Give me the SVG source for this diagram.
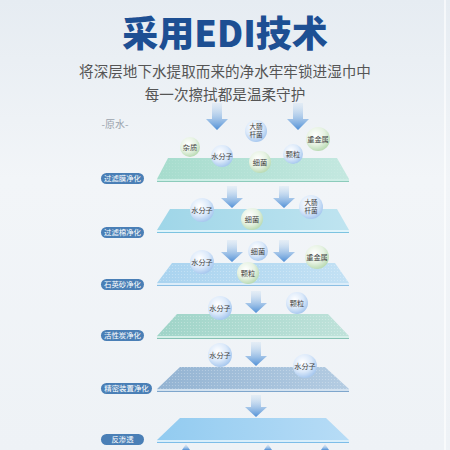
<svg xmlns="http://www.w3.org/2000/svg" width="450" height="450" viewBox="0 0 450 450">
<defs>
<linearGradient id="bg" x1="0" y1="0" x2="0" y2="1">
<stop offset="0" stop-color="#e6ecf2"/><stop offset="0.4" stop-color="#f2f5f8"/><stop offset="1" stop-color="#eef2f6"/>
</linearGradient>
<linearGradient id="arr" x1="0" y1="0" x2="0" y2="1">
<stop offset="0" stop-color="#c9def2" stop-opacity="0.3"/><stop offset="1" stop-color="#4f8fd6"/>
</linearGradient>
<radialGradient id="bb" cx="0.4" cy="0.35" r="0.65">
<stop offset="0" stop-color="#ffffff"/><stop offset="0.6" stop-color="#dbe9fa"/><stop offset="1" stop-color="#a9c9ef"/>
</radialGradient>
<radialGradient id="bg2" cx="0.4" cy="0.35" r="0.65">
<stop offset="0" stop-color="#ffffff"/><stop offset="0.6" stop-color="#e6f2e2"/><stop offset="1" stop-color="#bcdcb6"/>
</radialGradient>
<pattern id="dots" width="3" height="3" patternUnits="userSpaceOnUse">
<circle cx="1.5" cy="1.5" r="0.6" fill="#ffffff" fill-opacity="0.3"/>
</pattern>
<linearGradient id="p1" x1="0" y1="0" x2="1" y2="0"><stop offset="0" stop-color="#a6dccd"/><stop offset="1" stop-color="#c4e8e0"/></linearGradient>
<linearGradient id="p2" x1="0" y1="0" x2="1" y2="0"><stop offset="0" stop-color="#9fd6e8"/><stop offset="1" stop-color="#bfe4f0"/></linearGradient>
<linearGradient id="p3" x1="0" y1="0" x2="1" y2="0"><stop offset="0" stop-color="#a9d3ef"/><stop offset="1" stop-color="#c3e1f4"/></linearGradient>
<linearGradient id="p4" x1="0" y1="0" x2="1" y2="0"><stop offset="0" stop-color="#9fd4c8"/><stop offset="1" stop-color="#bfe2da"/></linearGradient>
<linearGradient id="p5" x1="0" y1="0" x2="1" y2="0"><stop offset="0" stop-color="#93b3d2"/><stop offset="1" stop-color="#b4cce2"/></linearGradient>
<linearGradient id="p6" x1="0" y1="0" x2="1" y2="0"><stop offset="0" stop-color="#92cbf0"/><stop offset="1" stop-color="#b7dcf6"/></linearGradient>
</defs>
<style>
.t{font-family:"Noto Sans CJK SC","Noto Sans",sans-serif;}
.title{font-size:36px;font-weight:900;fill:#1d4f93;}
.sub{font-size:14.6px;fill:#555555;}
.pill{fill:#4a7fb6;}
.pt{font-size:7.4px;fill:#ffffff;text-anchor:middle;}
.bt{font-size:7.2px;fill:#444444;text-anchor:middle;}
.bt2{font-size:6.6px;fill:#444444;text-anchor:middle;}
.arrow{fill:url(#arr);}
</style>
<rect width="450" height="450" fill="url(#bg)"/>
<rect x="444" y="0" width="2" height="450" fill="#ffffff" fill-opacity="0.6"/>

<g id="title" class="t">
<text class="title" x="225" y="47" text-anchor="middle">采用EDI技术</text>
<text class="sub" x="225" y="77" text-anchor="middle">将深层地下水提取而来的净水牢牢锁进湿巾中</text>
<text class="sub" x="225" y="100" text-anchor="middle">每一次擦拭都是温柔守护</text>
<text x="115" y="128" text-anchor="middle" style="font-size:10px;fill:#9aa3ad;">-原水-</text>
</g>

<g id="connectors">
<path class="arrow" d="M212,103 H222 V119 H228 L217,130 L206,119 H212 Z"/>
<path class="arrow" d="M293,103 H303 V119 H309 L298,130 L287,119 H293 Z"/>
<path class="arrow" d="M227,186 H237 V198 H243 L232,208 L221,198 H227 Z"/>
<path class="arrow" d="M279,186 H289 V198 H295 L284,208 L273,198 H279 Z"/>
<path class="arrow" d="M227,240 H237 V252 H243 L232,262 L221,252 H227 Z"/>
<path class="arrow" d="M279,240 H289 V252 H295 L284,262 L273,252 H279 Z"/>
<path class="arrow" d="M251,291 H261 V303 H267 L256,313 L245,303 H251 Z"/>
<path class="arrow" d="M251,342 H261 V356 H267 L256,366 L245,356 H251 Z"/>
<path class="arrow" d="M251,395 H261 V407 H267 L256,417 L245,407 H251 Z"/>
<path class="arrow" d="M186,444 L182,450 H190 Z"/>
<path class="arrow" d="M268,444 L264,450 H272 Z"/>
<path class="arrow" d="M325,444 L321,450 H329 Z"/>
</g>

<g id="plate1">
<polygon points="168,158 337,158 349,179 157,179" fill="url(#p1)"/>
<polygon points="168,158 337,158 349,179 157,179" fill="url(#dots)" opacity="0.4"/>
<rect x="157" y="179" width="192" height="2" fill="#cdeee6"/>
<line x1="157" y1="181.5" x2="349" y2="181.5" stroke="#8ccbbb" stroke-width="1"/>
<rect class="pill" x="101" y="173" width="43" height="11" rx="5.5"/>
<text class="t pt" x="122.5" y="181.2">过滤膜净化</text>
</g>
<g id="plate2">
<polygon points="170,209 337,209 349,230 157,230" fill="url(#p2)"/>
<rect x="157" y="230" width="192" height="2" fill="#dff4fb"/>
<line x1="157" y1="232.5" x2="349" y2="232.5" stroke="#7cc3e0" stroke-width="1"/>
<rect class="pill" x="101" y="227" width="43" height="11" rx="5.5"/>
<text class="t pt" x="122.5" y="235.2">过滤棉净化</text>
</g>
<g id="plate3">
<polygon points="172,263 335,263 349,283 157,283" fill="url(#p3)"/>
<polygon points="172,263 335,263 349,283 157,283" fill="url(#dots)"/>
<rect x="157" y="283" width="192" height="2" fill="#dcedf9"/>
<line x1="157" y1="285.5" x2="349" y2="285.5" stroke="#8cbfe3" stroke-width="1"/>
<rect class="pill" x="101" y="279" width="43" height="11" rx="5.5"/>
<text class="t pt" x="122.5" y="287.2">石英砂净化</text>
</g>
<g id="plate4">
<polygon points="177,314 328,314 349,336 157,336" fill="url(#p4)"/>
<polygon points="177,314 328,314 349,336 157,336" fill="url(#dots)"/>
<rect x="157" y="336" width="192" height="2" fill="#d6efe9"/>
<line x1="157" y1="338.5" x2="349" y2="338.5" stroke="#86c3b4" stroke-width="1"/>
<rect class="pill" x="101" y="330" width="43" height="11" rx="5.5"/>
<text class="t pt" x="122.5" y="338.2">活性炭净化</text>
</g>
<g id="plate5">
<polygon points="180,367 325,367 349,389 157,389" fill="url(#p5)"/>
<polygon points="180,367 325,367 349,389 157,389" fill="url(#dots)"/>
<rect x="157" y="389" width="192" height="2" fill="#d3e2f0"/>
<line x1="157" y1="391.5" x2="349" y2="391.5" stroke="#7fa6cc" stroke-width="1"/>
<rect class="pill" x="101" y="383" width="51" height="11" rx="5.5"/>
<text class="t pt" x="126.5" y="391.2">精密装置净化</text>
</g>
<g id="plate6">
<polygon points="180,418 326,418 349,440 157,440" fill="url(#p6)"/>
<rect x="157" y="440" width="192" height="2" fill="#d8eefb"/>
<line x1="157" y1="442.5" x2="349" y2="442.5" stroke="#7dbde8" stroke-width="1"/>
<rect class="pill" x="101" y="434" width="43" height="11" rx="5.5"/>
<text class="t pt" x="122.5" y="442.2">反渗透</text>
</g>

<g id="bubbles" class="t">
<g id="b1"><circle cx="190" cy="147" r="10" fill="url(#bg2)"/><text class="bt" x="190" y="149.5">杂质</text></g>
<g id="b2"><circle cx="222" cy="156" r="11" fill="url(#bb)"/><text class="bt" x="222" y="158.5">水分子</text></g>
<g id="b3"><circle cx="256" cy="131" r="11" fill="url(#bb)"/><text class="bt2" x="256" y="128.5">大肠</text><text class="bt2" x="256" y="137">杆菌</text></g>
<g id="b4"><circle cx="260" cy="162" r="11" fill="url(#bg2)"/><text class="bt" x="260" y="164.5">细菌</text></g>
<g id="b5"><circle cx="293" cy="154" r="10" fill="url(#bb)"/><text class="bt" x="293" y="156.5">颗粒</text></g>
<g id="b6"><circle cx="318" cy="139" r="12" fill="url(#bg2)"/><text class="bt" x="318" y="141.5">重金属</text></g>
<g id="b7"><circle cx="202" cy="210" r="12" fill="url(#bb)"/><text class="bt" x="202" y="212.5">水分子</text></g>
<g id="b8"><circle cx="252" cy="219" r="11" fill="url(#bg2)"/><text class="bt" x="252" y="221.5">细菌</text></g>
<g id="b9"><circle cx="311" cy="207" r="12" fill="url(#bb)"/><text class="bt2" x="311" y="204.5">大肠</text><text class="bt2" x="311" y="213">杆菌</text></g>
<g id="b10"><circle cx="258" cy="251" r="10" fill="url(#bb)"/><text class="bt" x="258" y="253.5">细菌</text></g>
<g id="b11"><circle cx="202" cy="262" r="12" fill="url(#bb)"/><text class="bt" x="202" y="264.5">水分子</text></g>
<g id="b12"><circle cx="317" cy="257" r="12" fill="url(#bg2)"/><text class="bt" x="317" y="259.5">重金属</text></g>
<g id="b13"><circle cx="248" cy="273" r="11" fill="url(#bg2)"/><text class="bt" x="248" y="275.5">颗粒</text></g>
<g id="b14"><circle cx="220" cy="308" r="12" fill="url(#bb)"/><text class="bt" x="220" y="310.5">水分子</text></g>
<g id="b15"><circle cx="297" cy="303" r="11" fill="url(#bb)"/><text class="bt" x="297" y="305.5">颗粒</text></g>
<g id="b16"><circle cx="220" cy="355" r="12" fill="url(#bb)"/><text class="bt" x="220" y="357.5">水分子</text></g>
<g id="b17"><circle cx="305" cy="366" r="12" fill="url(#bb)"/><text class="bt" x="305" y="368.5">水分子</text></g>
</g>
</svg>
